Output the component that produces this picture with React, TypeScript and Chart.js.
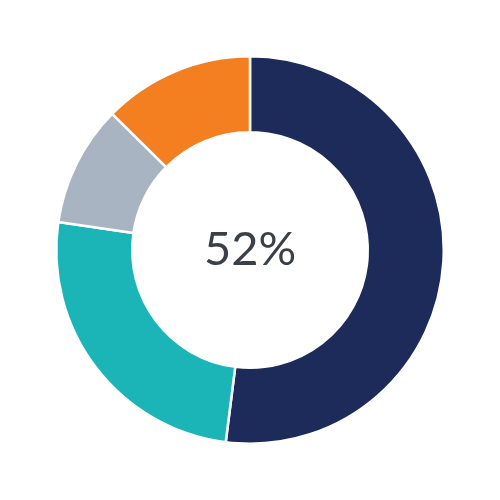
import React, { useEffect, useRef } from "react";
import { Chart, registerables } from "chart.js";

Chart.register(...registerables);

const labels = ["Navy", "Teal", "Gray", "Orange"];
const values = [52, 25.3, 10.1, 12.6];
const colors = ["#1c2b5a", "#1bb5b8", "#a9b4c2", "#f47f20"];
const centerLabel = "52%";

const centerText = {
  id: "centerText",
  afterDraw(chart: Chart) {
    const { ctx, chartArea } = chart;
    const x = (chartArea.left + chartArea.right) / 2;
    const y = (chartArea.top + chartArea.bottom) / 2;
    ctx.save();
    ctx.font = "400 47px Lato, 'Open Sans', sans-serif";
    ctx.fillStyle = "#3a3f48";
    ctx.textAlign = "center";
    ctx.textBaseline = "middle";
    ctx.fillText(centerLabel, x, y);
    ctx.restore();
  },
};

const App = () => {
  const canvasRef = useRef<HTMLCanvasElement | null>(null);

  useEffect(() => {
    document.body.style.margin = "0";
    if (!canvasRef.current) return;
    const ctx = canvasRef.current.getContext("2d");
    if (!ctx) return;

    const chart = new Chart(ctx, {
      type: "doughnut",
      data: {
        labels,
        datasets: [
          {
            data: values,
            backgroundColor: colors,
            borderColor: "#ffffff",
            borderWidth: 2.5,
          },
        ],
      },
      options: {
        responsive: false,
        animation: false,
        cutout: "60.8%",
        layout: { padding: 55 },
        plugins: {
          legend: { display: false },
          tooltip: { enabled: false },
        },
      },
      plugins: [centerText],
    });

    return () => {
      chart.destroy();
    };
  }, []);

  return <canvas ref={canvasRef} width={500} height={500} style={{ width: 500, height: 500, display: "block" }} />;
};

export default App;
